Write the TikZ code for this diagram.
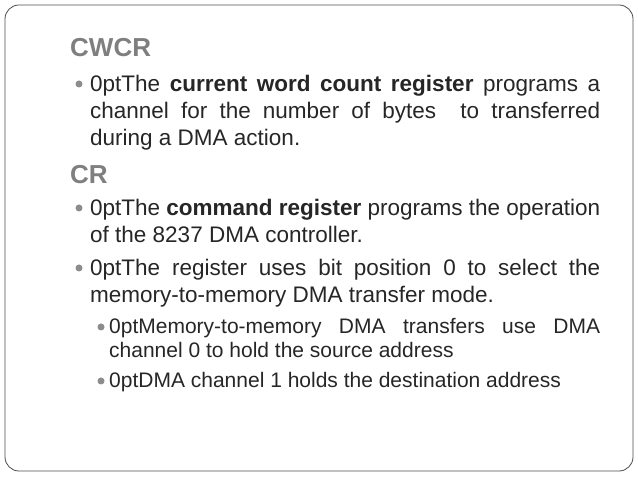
\documentclass[tikz,border=0pt]{standalone}
\usepackage{fontspec}
\setmainfont{Liberation Sans}
\definecolor{txt}{HTML}{262626}
\definecolor{head}{HTML}{7F7F7F}
\definecolor{dotc}{HTML}{8C8C8C}
\begin{document}
\begin{tikzpicture}[x=1pt,y=-1pt,
  para/.style={anchor=north west,inner sep=0pt,text width=510pt,align=justify,text=txt,font=\fontsize{22.5}{27}\selectfont\hyphenpenalty=10000 },
  subpara/.style={anchor=north west,inner sep=0pt,text width=491pt,align=justify,text=txt,font=\fontsize{21}{24}\selectfont\hyphenpenalty=10000 },
  heading/.style={anchor=west,inner sep=0pt,text=head,font=\fontsize{26}{30}\selectfont\bfseries},
  dot/.style={circle,fill=dotc,inner sep=0pt,minimum size=7pt}]
\useasboundingbox (0,0) rectangle (638,478);
\draw[black!70,line width=0.8pt,rounded corners=14pt] (5,5) rectangle (633,471);
\node[heading] (h1) at (70,48) {CWCR};
\node[dot] (d1) at (79,84) {};
\node[para] (p1) at (90,75) {The \textbf{current word count register} programs a\linebreak channel for the number of bytes\ \ to transferred\linebreak during a DMA action.};
\node[heading] (h2) at (70,175) {CR};
\node[dot] (d2) at (79,208) {};
\node[para] (p2) at (90,199) {The \textbf{command register} programs the operation\linebreak of the 8237 DMA controller.};
\node[dot] (d3) at (79,268) {};
\node[para] (p3) at (90,259) {The register uses bit position 0 to select the\linebreak memory-to-memory DMA transfer mode.};
\node[dot] (d4) at (101,327) {};
\node[subpara] (p4) at (109,318) {Memory-to-memory DMA transfers use DMA\linebreak channel 0 to hold the source address};
\node[dot] (d5) at (101,381) {};
\node[subpara] (p5) at (109,372) {DMA channel 1 holds the destination address};
\end{tikzpicture}
\end{document}
